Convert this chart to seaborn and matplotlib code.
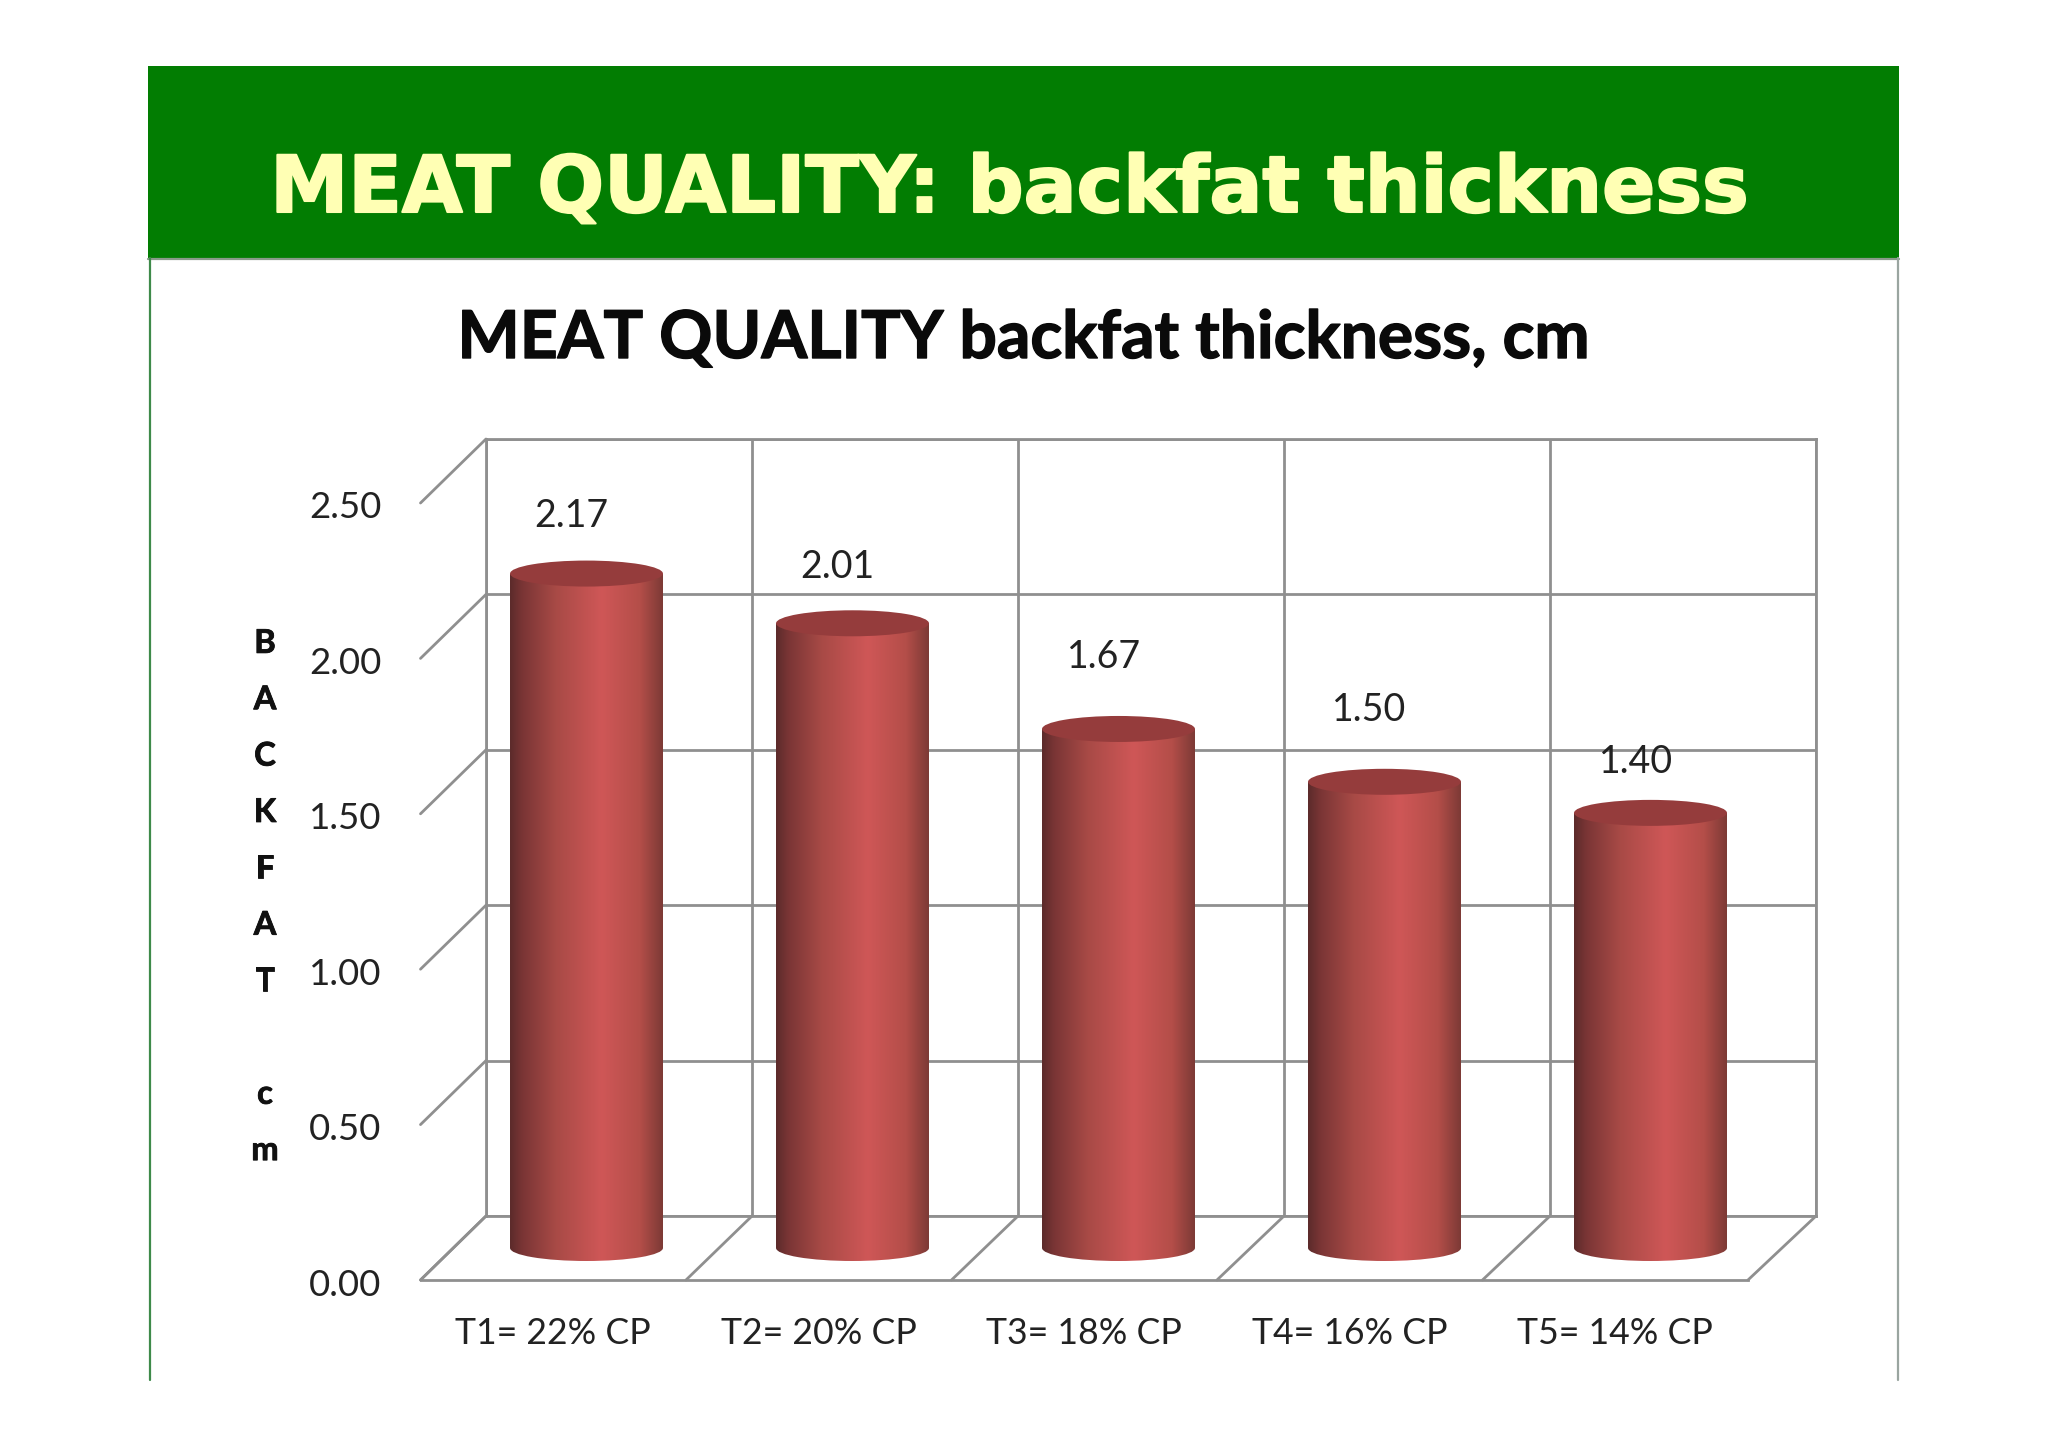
import numpy as np
import pandas as pd
import matplotlib
matplotlib.use("Agg")
import matplotlib.pyplot as plt
import matplotlib.patheffects as pe
from matplotlib.colors import LinearSegmentedColormap
from matplotlib.patches import Ellipse, Rectangle, ConnectionPatch
from matplotlib.transforms import Affine2D
import seaborn as sns

# ---- data ----
categories = ["T1= 22% CP", "T2= 20% CP", "T3= 18% CP", "T4= 16% CP", "T5= 14% CP"]
backfat = [2.17, 2.01, 1.67, 1.50, 1.40]
y_ticks = [0.0, 0.5, 1.0, 1.5, 2.0, 2.5]
header_title = "MEAT QUALITY: backfat thickness"
chart_title = "MEAT QUALITY backfat thickness, cm"
y_label = "B\nA\nC\nK\nF\nA\nT\n\nc\nm"

# ---- layout / style ----
W, H = 2048, 1448
label_lift = [0.185, 0.181, 0.233, 0.231, 0.163]
GRID = "#8f8f8f"
BODY = "Lato"
sns.set_theme(style="white")
plt.rcParams["font.family"] = [BODY, "DejaVu Sans"]

fig = plt.figure(figsize=(W / 100, H / 100), dpi=100, facecolor="white")


def axes_px(x0, x1, ytop, ybot, **kw):
    return fig.add_axes([x0 / W, 1 - ybot / H, (x1 - x0) / W, (ybot - ytop) / H], **kw)


# page furniture
fig.add_artist(Rectangle((148 / W, 1 - 258 / H), 1751 / W, 192 / H, transform=fig.transFigure,
                         facecolor="#027d02", edgecolor="none"))
fig.add_artist(plt.Line2D([148 / W, 1899 / W], [1 - 259 / H, 1 - 259 / H], color="#8a9a8a", lw=1.6))
for xp, col in ((150, "#3f8a4a"), (1898, "#9aa5a0")):
    fig.add_artist(plt.Line2D([xp / W, xp / W], [1 - 258 / H, 1 - 1380 / H], color=col, lw=1.6))
fig.text(1010 / W, 1 - 190 / H, header_title, ha="center", va="center", color="#FFFFB4",
         fontsize=56.5, fontweight="bold", family=["DejaVu Sans"],
         path_effects=[pe.withStroke(linewidth=1.5, foreground="#FFFFB4")])
fig.text(1024 / W, 1 - 339 / H, chart_title, ha="center", va="center", color="#0a0a0a",
         fontsize=47.5, fontweight="bold",
         path_effects=[pe.withStroke(linewidth=1.0, foreground="#0a0a0a")])

# back wall
back = axes_px(486, 1816, 439, 1216)
back.set_xlim(-0.5, 4.5)
back.set_ylim(0, 2.5)
back.set_xticks(np.arange(len(categories) + 1) - 0.5)
back.set_yticks(y_ticks)
back.tick_params(length=0, labelbottom=False, labelleft=False)
back.grid(True, color=GRID, lw=2.0)
for s in back.spines.values():
    s.set_color(GRID)
    s.set_linewidth(2.0)

# front plane: axis labels and floor edge
front = axes_px(420.5, 1748, 503, 1280)
front.patch.set_alpha(0)
front.set_xlim(-0.5, 4.5)
front.set_ylim(0, 2.5)
front.set_xticks(range(len(categories)), categories)
front.set_yticks(y_ticks, [f"{t:.2f}" for t in y_ticks])
front.tick_params(axis="y", length=0, pad=28, labelsize=26.4, labelcolor="#222222")
front.tick_params(axis="x", length=0, pad=27, labelsize=25.7, labelcolor="#222222")
for lab in front.get_yticklabels():
    lab.set_transform(lab.get_transform() + Affine2D().translate(0, -2))
sns.despine(ax=front, left=True)
front.spines["bottom"].set_color(GRID)
front.spines["bottom"].set_linewidth(2.0)
front.set_ylabel(y_label, rotation=0, fontsize=23.5, fontweight="bold", color="#111111",
                 linespacing=2.14, va="center", ha="center",
                 path_effects=[pe.withStroke(linewidth=0.6, foreground="#111111")])
front.yaxis.set_label_coords((265 - 420.5) / 1327.5, (1280 - 897) / 777)

# depth edges
for t in y_ticks:
    fig.add_artist(ConnectionPatch((-0.5, t), (-0.5, t), front.transData, back.transData,
                                   color=GRID, lw=2.0))
for e in np.arange(len(categories) + 1) - 0.5:
    fig.add_artist(ConnectionPatch((e, 0), (e, 0), front.transData, back.transData,
                                   color=GRID, lw=2.0))

# bars, on a plane half way into the depth
Y_FLOOR = -0.1
unit = 310.8
bars = axes_px(453.5, 1783.5, 1248 - 2.5 * unit, 1248 - Y_FLOOR * unit, zorder=5)
bars.patch.set_alpha(0)
df = pd.DataFrame({"treatment": categories, "backfat": backfat})
BAR_W = 0.575
sns.barplot(data=df, x="treatment", y="backfat", color="#b84f4a", width=BAR_W, saturation=1,
            ax=bars)
cyl = LinearSegmentedColormap.from_list(
    "cyl", [(0.0, "#5c2b2b"), (0.08, "#7a3535"), (0.3, "#a84a46"), (0.6, "#cf5757"),
            (0.85, "#b44e49"), (1.0, "#7d3a36")])
grad = np.linspace(0, 1, 256)[None, :]
EH = 26 / unit
for i, (rect, v) in enumerate(zip(list(bars.patches), backfat)):
    x0, x1 = rect.get_x(), rect.get_x() + rect.get_width()
    cx = (x0 + x1) / 2
    rect.set_edgecolor("none")
    im = bars.imshow(grad, extent=[x0, x1, 0, v], aspect="auto", cmap=cyl, zorder=3)
    im.set_clip_path(rect)
    base = Ellipse((cx, 0), BAR_W, EH, transform=bars.transData, facecolor="none", edgecolor="none")
    bars.add_patch(base)
    im2 = bars.imshow(grad, extent=[x0, x1, -EH, EH / 2], aspect="auto", cmap=cyl, zorder=2.9)
    im2.set_clip_path(base)
    bars.add_patch(Ellipse((cx, v), BAR_W, EH, facecolor="#953c3c", edgecolor="none", zorder=4))
    bars.text(i - 0.056, v + label_lift[i], f"{v:.2f}", ha="center", va="center",
              fontsize=27, color="#222222")
bars.set_xlim(-0.5, 4.5)
bars.set_ylim(Y_FLOOR, 2.5)
bars.axis("off")

fig.savefig("out.png", dpi=100, facecolor="white")
